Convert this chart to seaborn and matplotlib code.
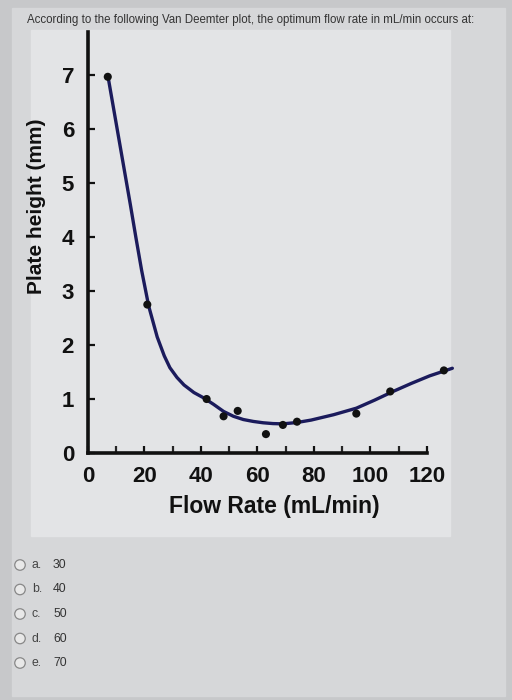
import numpy as np
import pandas as pd
import matplotlib
matplotlib.use("Agg")
import matplotlib.pyplot as plt
from matplotlib.patches import Rectangle, Ellipse
import seaborn as sns

flow_rate = [7, 21, 42, 48, 53, 63, 69, 74, 95, 107, 126]
plate_height = [6.97, 2.75, 1.0, 0.68, 0.78, 0.35, 0.52, 0.58, 0.73, 1.14, 1.53]

# drawn fit curve, read at several flow rates
curve_flow = [7, 9, 11, 13, 15, 17, 19, 21.5, 24.5, 27, 29, 31.5, 34, 37.5,
              41, 44.5, 48, 51.5, 55, 58.5, 62, 65.5, 69, 74, 79, 87, 95, 101.5,
              108, 114.5, 121, 129]
curve_height = [7.0, 6.4, 5.8, 5.2, 4.6, 3.98, 3.38, 2.72, 2.15, 1.8, 1.58, 1.4,
                1.26, 1.12, 1.02, 0.9, 0.77, 0.68, 0.62, 0.585, 0.56, 0.545, 0.54,
                0.565, 0.61, 0.71, 0.83, 0.98, 1.14, 1.29, 1.43, 1.57]

x_ticks = [0, 20, 40, 60, 80, 100, 120]
y_ticks = [0, 1, 2, 3, 4, 5, 6, 7]

question = "According to the following Van Deemter plot, the optimum flow rate in mL/min occurs at:"
option_letters = ["a.", "b.", "c.", "d.", "e."]
option_values = ["30", "40", "50", "60", "70"]

sns.set_theme(style="ticks")
plt.rcParams['font.family'] = ['Liberation Sans', 'DejaVu Sans']

W, H = 512, 700
fig = plt.figure(figsize=(W / 100, H / 100), dpi=100, facecolor='#c7c8ca')

# screen card and the white-ish picture panel
fig.add_artist(Rectangle((12 / W, 1 - 696 / H), 493 / W, 688 / H,
                         transform=fig.transFigure, color='#d6d7d9', zorder=0))
fig.add_artist(Rectangle((31 / W, 1 - 536 / H), 419 / W, 506 / H,
                         transform=fig.transFigure, color='#e3e4e6', zorder=0))

ax = fig.add_axes([88 / W, 1 - 453 / H, 370 / W, 421 / H])
ax.set_facecolor('none')

sns.lineplot(x=curve_flow, y=curve_height, ax=ax, color='#1b1b5c', lw=2.4,
             estimator=None, zorder=2)
sns.scatterplot(x=flow_rate, y=plate_height, ax=ax, color='#111111', s=34,
                edgecolor='none', zorder=3, clip_on=False)

ax.set_xlim(0, 131)
ax.set_ylim(0, 7.8)
ax.set_xticks(x_ticks)
ax.set_xticks(range(0, 121, 10), minor=True)
ax.set_yticks(y_ticks)
ax.tick_params(axis='both', direction='in', length=5, width=1.6, colors='#111111',
               labelsize=16)
ax.tick_params(axis='x', which='minor', direction='in', length=5, width=1.6)
ax.tick_params(axis='x', pad=9)
ax.tick_params(axis='y', pad=10)
for lab in ax.get_xticklabels() + ax.get_yticklabels():
    lab.set_fontweight('bold')

sns.despine(ax=ax)
for s in ['left', 'bottom']:
    ax.spines[s].set_linewidth(2.6)
    ax.spines[s].set_color('#111111')
ax.spines['bottom'].set_bounds(0, 120)

fig.text(274 / W, 1 - 507 / H, "Flow Rate (mL/min)", ha='center', va='center',
         fontsize=16.5, fontweight='bold', color='#111111')
fig.text(37 / W, 1 - 206 / H, "Plate height (mm)", ha='center', va='center',
         rotation=90, fontsize=15, fontweight='bold', color='#111111')

fig.text(27 / W, 1 - 20 / H, question, ha='left', va='center', fontsize=8.3,
         color='#333333')

for i, (letter, value) in enumerate(zip(option_letters, option_values)):
    yc = 565 + i * 24.5
    fig.add_artist(Ellipse((20 / W, 1 - yc / H), 10.5 / W, 10.5 / H,
                           transform=fig.transFigure, facecolor='#e8e8e8',
                           edgecolor='#888888', lw=0.9))
    fig.text(32 / W, 1 - yc / H, letter, ha='left', va='center', fontsize=8.8,
             color='#444444')
    fig.text(53 / W, 1 - yc / H, value, ha='left', va='center', fontsize=8.8,
             color='#333333')

fig.savefig("out.png", dpi=100, facecolor=fig.get_facecolor())
